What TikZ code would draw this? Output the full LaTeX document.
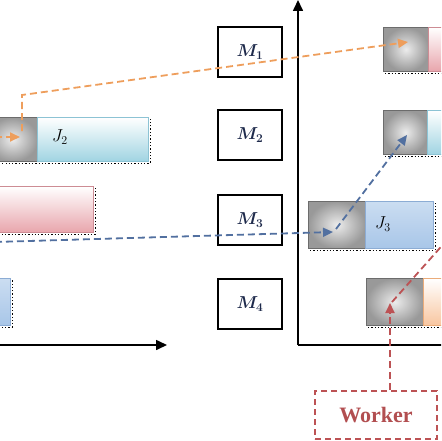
\documentclass[tikz,border=0pt]{standalone}
\usepackage{fontspec}
\usepackage{bm}
\newfontfamily\workerfont{Liberation Serif}
\usetikzlibrary{arrows.meta}
\definecolor{mtext}{RGB}{30,42,75}
\definecolor{jtwo}{RGB}{160,212,226}
\definecolor{jtwoedge}{RGB}{140,195,212}
\definecolor{jone}{RGB}{232,165,172}
\definecolor{joneedge}{RGB}{205,140,148}
\definecolor{jthree}{RGB}{168,198,232}
\definecolor{jthreeedge}{RGB}{140,172,212}
\definecolor{jfour}{RGB}{248,198,160}
\definecolor{jfouredge}{RGB}{235,172,122}
\definecolor{odash}{RGB}{238,158,92}
\definecolor{bdash}{RGB}{82,112,160}
\definecolor{rdash}{RGB}{188,82,84}
\tikzset{
  mbox/.style={draw, line width=1.4pt, minimum width=64pt, minimum height=50pt,
    inner sep=0pt, text=mtext, font=\fontsize{17}{19}\selectfont},
  blk/.style={anchor=north west, inner sep=0pt, line width=0.8pt},
  grayblk/.style={blk, draw=gray!85!black, inner color=gray!15, outer color=gray!80},
  jtwoblk/.style={blk, draw=jtwoedge, top color=white, bottom color=jtwo},
  joneblk/.style={blk, draw=joneedge, top color=white, bottom color=jone},
  jthreeblk/.style={blk, draw=jthreeedge, top color=white!40!jthree, bottom color=jthree},
  jfourblk/.style={blk, draw=jfouredge, top color=white, bottom color=jfour},
  jlabel/.style={inner sep=0pt, font=\fontsize{17}{19}\selectfont},
  shadowline/.style={dotted, line width=1.3pt},
  axis/.style={line width=1.6pt, -{Triangle[length=11pt,width=10pt]}},
  arrowtip/.style={-{Triangle[length=10pt,width=9pt]}},
  odashed/.style={draw=odash, line width=1.8pt, dash pattern=on 7pt off 4pt},
  bdashed/.style={draw=bdash, line width=1.8pt, dash pattern=on 7pt off 4pt},
  rdashed/.style={draw=rdash, line width=1.8pt, dash pattern=on 7pt off 4pt},
  workerbox/.style={draw=rdash, line width=1.6pt, dash pattern=on 6pt off 4pt,
    minimum width=122pt, minimum height=48pt, text=rdash!95!black,
    font=\workerfont\bfseries\fontsize{22}{24}\selectfont}
}
\begin{document}
\begin{tikzpicture}[x=1pt,y=-1pt]
\useasboundingbox (0,0) rectangle (441,441);
\clip (0,0) rectangle (441,441);

% machines
\foreach \i/\y in {1/52,2/135,3/220,4/304}
  \node[mbox] (m\i) at (250,\y) {$\bm{M}_{\bm{\i}}$};

% left chart
\node[grayblk, minimum width=50pt, minimum height=44pt] (gl2) at (-13,117) {};
\node[jtwoblk, minimum width=111pt, minimum height=44pt] (jl2) at (37,117) {};
\node[jlabel] (jl2t) at (60,137) {$J_2$};
\node[joneblk, minimum width=113pt, minimum height=46pt] (jl1) at (-20,186) {};
\node[jthreeblk, minimum width=30pt, minimum height=47pt] (jl3) at (-20,278) {};

% right chart
\node[grayblk, minimum width=45pt, minimum height=44pt] (gr1) at (383,27) {};
\node[joneblk, minimum width=60pt, minimum height=44pt] (jr1) at (428,27) {};
\node[grayblk, minimum width=44pt, minimum height=44pt] (gr2) at (383,110) {};
\node[jtwoblk, minimum width=60pt, minimum height=44pt] (jr2) at (427,110) {};
\node[grayblk, minimum width=57pt, minimum height=47pt] (gr3) at (308,201) {};
\node[jthreeblk, minimum width=68pt, minimum height=47pt] (jr3) at (365,201) {};
\node[jlabel] (jr3t) at (383,224) {$J_3$};
\node[grayblk, minimum width=57pt, minimum height=47pt] (gr4) at (366,278) {};
\node[jfourblk, minimum width=60pt, minimum height=47pt] (jr4) at (423,278) {};

% dotted shadows
\foreach \g/\j in {gl2/jl2,jl1/jl1,jl3/jl3,gr1/jr1,gr2/jr2,gr3/jr3,gr4/jr4}
  \draw[shadowline] ([xshift=2pt,yshift=-1.4pt]\g.south west)
    -- ([xshift=1.4pt,yshift=-1.4pt]\j.south east)
    -- ([xshift=1.4pt,yshift=-2pt]\j.north east);

% axes
\coordinate (lo) at (0,345);
\coordinate (lx) at (167,345);
\coordinate (org) at (298,345);
\coordinate (ytop) at (298,0);
\coordinate (rx) at (450,345);
\draw[axis] (lo) -- (lx);
\draw[axis] (org) -- (ytop);
\draw[line width=1.6pt] (org) -- (rx);

% worker
\node[workerbox] (worker) at (376,415) {Worker};

% orange path
\coordinate (oa) at (-5,137);
\coordinate (ob) at (20,137);
\coordinate (oc) at (22,131);
\coordinate (od) at (22,95);
\coordinate (oe) at (408,42);
\draw[odashed, arrowtip] (oa) -- (ob);
\draw[odashed, arrowtip] (oc) -- (od) -- (oe);

% blue path
\coordinate (ba) at (-5,242);
\coordinate (bb) at (333,232);
\coordinate (bc) at (336,229);
\coordinate (bd) at (407,135);
\draw[bdashed, arrowtip] (ba) -- (bb);
\draw[bdashed, arrowtip] (bc) -- (bd);

% red path
\coordinate (ra) at (390,303);
\coordinate (rb) at (392,302);
\coordinate (rc) at (447,240);
\draw[rdashed, arrowtip] (ra |- worker.north) -- (ra);
\draw[rdashed] (rb) -- (rc);
\end{tikzpicture}
\end{document}
